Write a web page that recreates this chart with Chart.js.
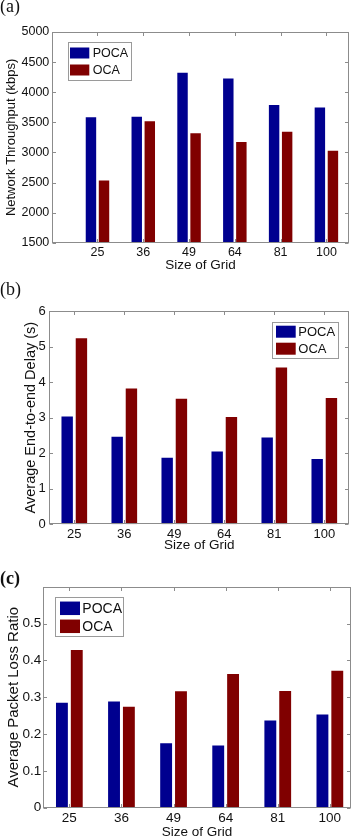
<!DOCTYPE html>
<html>
<head>
<meta charset="utf-8">
<script src="https://cdn.jsdelivr.net/npm/chart.js@4.4.1/dist/chart.umd.min.js"></script>
<style>
  html, body { margin: 0; padding: 0; background: #fff; width: 357px; height: 837px; overflow: hidden; }
  .panel { position: absolute; left: 0; width: 357px; }
  canvas { display: block; }
</style>
</head>
<body>
<div class="panel" id="pa" style="top:0px"><canvas id="ca" width="357" height="280"></canvas></div>
<div class="panel" id="pb" style="top:280px"><canvas id="cb" width="357" height="277"></canvas></div>
<div class="panel" id="pc" style="top:557px"><canvas id="cc" width="357" height="290"></canvas></div>
<script>
// ---------------- DATA ----------------
const gridSizes = ['25', '36', '49', '64', '81', '100'];
const seriesNames = ['POCA', 'OCA'];

const throughputPOCA = [3583, 3594, 4322, 4228, 3789, 3744];
const throughputOCA  = [2533, 3517, 3317, 3172, 3344, 3028];

const delayPOCA = [3.03, 2.46, 1.87, 2.05, 2.44, 1.84];
const delayOCA  = [5.23, 3.82, 3.53, 3.02, 4.41, 3.55];

const lossPOCA = [0.285, 0.288, 0.175, 0.169, 0.237, 0.253];
const lossOCA  = [0.428, 0.274, 0.316, 0.363, 0.317, 0.372];

const throughputTicks = [1500, 2000, 2500, 3000, 3500, 4000, 4500, 5000];
const delayTicks = [0, 1, 2, 3, 4, 5, 6];
const lossTicks = [0, 0.1, 0.2, 0.3, 0.4, 0.5];

// ---------------- STYLE ----------------
const COLORS = ['#00008f', '#800000'];
const SANS = "'Liberation Sans', Arial, Helvetica, sans-serif";
const SERIF = "'Liberation Serif', 'Times New Roman', serif";
const FRAME = '#8c8c8c';
const TEXT = '#111';

const framePlugin = {
  id: 'frame',
  afterDraw(chart, args, opts) {
    const { ctx, chartArea: a } = chart;
    const x = chart.scales.x, y = chart.scales.y;
    ctx.save();
    ctx.strokeStyle = FRAME;
    ctx.lineWidth = 1;
    const L = Math.round(a.left) + 0.5, R = Math.round(a.right) - 0.5;
    const T = Math.round(a.top) + 0.5, B = Math.round(a.bottom) - 0.5;
    ctx.strokeRect(L, T, R - L, B - T);
    const tl = 3.5;
    ctx.beginPath();
    y.ticks.forEach(t => {
      const py = Math.round(y.getPixelForValue(t.value)) + 0.5;
      ctx.moveTo(L, py); ctx.lineTo(L + tl, py);
      ctx.moveTo(R, py); ctx.lineTo(R - tl, py);
    });
    x.ticks.forEach(t => {
      const px = Math.round(x.getPixelForValue(t.value)) + 0.5;
      ctx.moveTo(px, B); ctx.lineTo(px, B - tl);
      ctx.moveTo(px, T); ctx.lineTo(px, T + tl);
    });
    ctx.stroke();

    // legend
    const lg = opts.legend;
    if (lg) {
      const bx = a.left + lg.dx, by = a.top + lg.dy;
      ctx.fillStyle = '#fff';
      ctx.fillRect(bx, by, lg.w, lg.h);
      ctx.strokeStyle = '#9a9a9a';
      ctx.strokeRect(Math.round(bx) + 0.5, Math.round(by) + 0.5, Math.round(lg.w), Math.round(lg.h));
      ctx.font = lg.fontSize + 'px ' + SANS;
      ctx.textBaseline = 'middle';
      ctx.textAlign = 'left';
      chart.data.datasets.forEach((ds, i) => {
        const cy = a.top + lg.rows[i];
        ctx.fillStyle = ds.backgroundColor;
        ctx.fillRect(a.left + lg.swX, cy - lg.swH / 2, lg.swW, lg.swH);
        ctx.fillStyle = TEXT;
        ctx.fillText(ds.label, a.left + lg.textX, cy + 0.5);
      });
    }
    ctx.restore();
  }
};

function makePanel(cfg) {
  const datasets = cfg.series.map((vals, i) => ({
    label: seriesNames[i],
    data: vals.map((v, k) => ({ x: k + 1, y: v })),
    backgroundColor: COLORS[i],
    borderWidth: 0,
    categoryPercentage: 0.57,
    barPercentage: 0.8
  }));
  const canvas = document.getElementById(cfg.canvas);
  const H = canvas.height;
  const area = cfg.area;
  new Chart(canvas, {
    type: 'bar',
    data: { datasets },
    options: {
      responsive: false,
      animation: false,
      devicePixelRatio: 1,
      layout: { padding: { top: 0, left: 0, bottom: 0, right: 357 - area.right } },
      plugins: {
        legend: { display: false },
        tooltip: { enabled: false },
        title: {
          display: true,
          text: cfg.label,
          align: 'start',
          color: TEXT,
          font: { family: SERIF, size: 18, weight: cfg.labelBold ? 'bold' : 'normal', lineHeight: 15 / 18 },
          padding: { top: cfg.labelCenter - 7.5, bottom: area.top - cfg.labelCenter - 7.5 }
        },
        frame: { legend: cfg.legend }
      },
      scales: {
        x: {
          type: 'linear',
          offset: false,
          min: cfg.xmin, max: cfg.xmax,
          afterBuildTicks: s => { s.ticks = gridSizes.map((g, i) => ({ value: i + 1 })); },
          afterFit: s => { s.height = H - area.bottom; },
          grid: { display: false, drawTicks: false, offset: false },
          border: { display: false },
          ticks: {
            callback: v => gridSizes[v - 1],
            color: TEXT, padding: 2.5, maxRotation: 0, autoSkip: false,
            font: { family: SANS, size: cfg.tickSize }
          },
          title: {
            display: true, text: 'Size of Grid', color: TEXT,
            font: { family: SANS, size: 13.5, lineHeight: 1.2 },
            padding: { top: 0, bottom: (H - cfg.xTitleCenter) - 8.1 }
          }
        },
        y: {
          min: cfg.ymin, max: cfg.ymax,
          afterBuildTicks: s => { s.ticks = cfg.yTicks.map(v => ({ value: v })); },
          afterFit: s => { s.width = area.left; },
          grid: { display: false, drawTicks: false },
          border: { display: false },
          ticks: {
            callback: v => String(v),
            color: TEXT, padding: cfg.yTickPad,
            font: { family: SANS, size: cfg.tickSize }
          },
          title: {
            display: true, text: cfg.yTitle, color: TEXT,
            font: { family: SANS, size: cfg.yTitleSize, lineHeight: 1.2 },
            padding: { top: cfg.yTitleCenter - cfg.yTitleSize * 0.6, bottom: 0 }
          }
        }
      }
    },
    plugins: [framePlugin]
  });
}

// (a) throughput
makePanel({
  canvas: 'ca', label: '(a)', labelCenter: 7.5,
  area: { left: 51.7, top: 32, right: 349.3, bottom: 242.7 },
  series: [throughputPOCA, throughputOCA],
  xmin: 0, xmax: 6.5,
  ymin: 1500, ymax: 5000, yTicks: throughputTicks,
  tickSize: 12.5, yTickPad: 2.4,
  yTitle: 'Network Throughput (kbps)', yTitleSize: 13, yTitleCenter: 11.7,
  xTitleCenter: 265,
  legend: { dx: 16, dy: 9.7, w: 63, h: 38.3, swX: 18.3, swW: 19.3, swH: 11, rows: [21, 38], textX: 41, fontSize: 12.5 }
});

// (b) delay
makePanel({
  canvas: 'cb', label: '(b)', labelCenter: 10,
  area: { left: 49.3, top: 31, right: 349.3, bottom: 244.3 },
  series: [delayPOCA, delayOCA],
  xmin: 0.5, xmax: 6.5,
  ymin: 0, ymax: 6, yTicks: delayTicks,
  tickSize: 13, yTickPad: 3.6,
  yTitle: 'Average End-to-end Delay (s)', yTitleSize: 14.5, yTitleCenter: 30.5,
  xTitleCenter: 265,
  legend: { dx: 222.4, dy: 11, w: 66, h: 36.3, swX: 226.7, swW: 19.7, swH: 12, rows: [20.7, 37.7], textX: 249, fontSize: 13 }
});

// (c) packet loss
makePanel({
  canvas: 'cc', label: '(c)', labelCenter: 22, labelBold: true,
  area: { left: 43.3, top: 29.7, right: 350.7, bottom: 250.7 },
  series: [lossPOCA, lossOCA],
  xmin: 0.5, xmax: 6.4,
  ymin: 0, ymax: 0.6, yTicks: lossTicks,
  tickSize: 13.5, yTickPad: 2,
  yTitle: 'Average Packet Loss Ratio', yTitleSize: 15, yTitleCenter: 14,
  xTitleCenter: 275,
  legend: { dx: 11.7, dy: 10.6, w: 68.3, h: 38.7, swX: 16.7, swW: 20, swH: 13.5, rows: [21.6, 39.6], textX: 39, fontSize: 14 }
});
</script>
</body>
</html>
